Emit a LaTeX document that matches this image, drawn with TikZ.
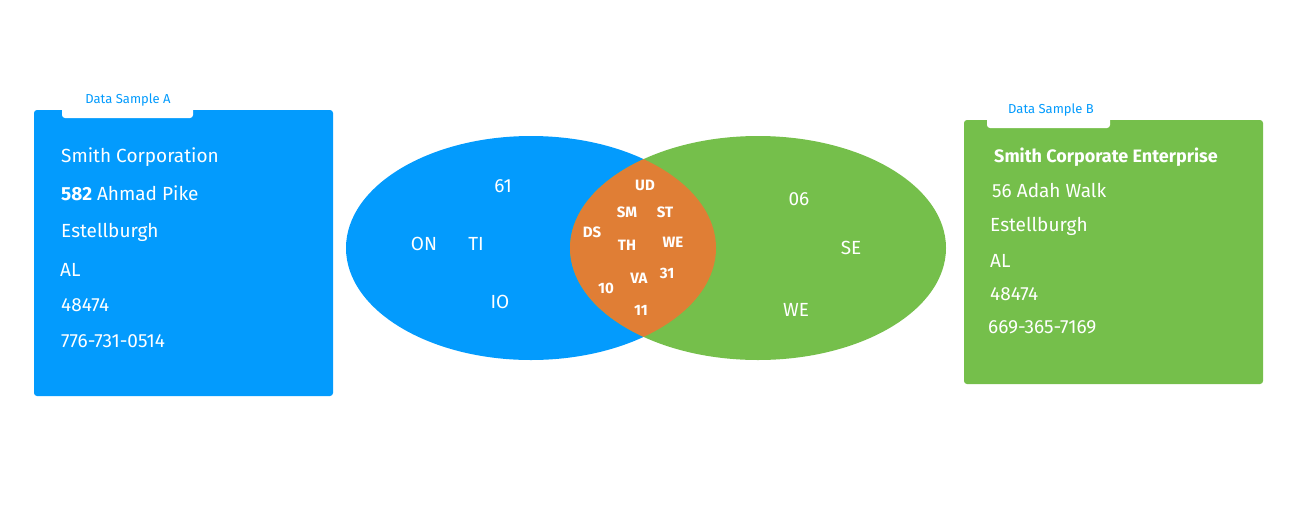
\documentclass[tikz,border=0pt]{standalone}
\usepackage{fontspec}
\setmainfont{Fira Sans}
\definecolor{cblue}{HTML}{039BFD}
\definecolor{cgreen}{HTML}{75BF4B}
\definecolor{corange}{HTML}{E07E35}
\begin{document}
\begin{tikzpicture}[x=1pt,y=-1pt,
  card/.style={rounded corners=3pt,draw=none},
  tab/.style={fill=white,rounded corners=3pt},
  tabtxt/.style={text=cblue,font=\fontsize{13}{15}\selectfont},
  line/.style={text=white,anchor=west,inner sep=0pt,font=\fontsize{19}{21}\selectfont},
  vtxt/.style={text=white,font=\fontsize{19}{21}\selectfont},
  itxt/.style={text=white,font=\bfseries\fontsize{15}{17}\selectfont}]
\useasboundingbox (0,0) rectangle (1290,504);
% cards
\fill[cblue,card] (34,110) rectangle (333,396);
\fill[tab] (62,84) rectangle (193,118);
\node[tabtxt] (ta) at (128,100) {Data Sample A};
\fill[cgreen,card] (964,120) rectangle (1263,384);
\fill[tab] (987,94) rectangle (1110,128);
\node[tabtxt] (tb) at (1051,110) {Data Sample B};
% venn
\fill[cblue] (531,248) ellipse [x radius=185,y radius=112];
\fill[cgreen] (758,248) ellipse [x radius=188,y radius=112];
\begin{scope}
\clip (531,248) ellipse [x radius=185,y radius=112];
\fill[corange] (758,248) ellipse [x radius=188,y radius=112];
\end{scope}
% left text
\node[line] (a1) at (61,157) {Smith Corporation};
\node[line] (a2) at (61,193) {\textbf{582} Ahmad Pike};
\node[line] (a3) at (61,232) {Estellburgh};
\node[line] (a4) at (60,270) {AL};
\node[line] (a5) at (61,305) {48474};
\node[line] (a6) at (61,341) {776-731-0514};
% right text
\node[line,font=\bfseries\fontsize{18}{20}\selectfont] (b1) at (994,157) {Smith Corporate Enterprise};
\node[line] (b2) at (992,190) {56 Adah Walk};
\node[line] (b3) at (990,226) {Estellburgh};
\node[line] (b4) at (990,261) {AL};
\node[line] (b5) at (990,294) {48474};
\node[line] (b6) at (988,327) {669-365-7169};
% venn labels
\node[vtxt] (l1) at (503,186) {61};
\node[vtxt] (l2) at (424,244) {ON};
\node[vtxt] (l3) at (476,244) {TI};
\node[vtxt] (l4) at (500,302) {IO};
\node[vtxt] (r1) at (799,199) {06};
\node[vtxt] (r2) at (851,248) {SE};
\node[vtxt] (r3) at (796,310) {WE};
\node[itxt] (c1) at (645,185) {UD};
\node[itxt] (c2) at (627,212) {SM};
\node[itxt] (c3) at (665,212) {ST};
\node[itxt] (c4) at (592,232) {DS};
\node[itxt] (c5) at (627,245) {TH};
\node[itxt] (c6) at (673,242) {WE};
\node[itxt] (c7) at (639,278) {VA};
\node[itxt] (c8) at (667,273) {31};
\node[itxt] (c9) at (606,288) {10};
\node[itxt] (c10) at (641,310) {11};
\end{tikzpicture}
\end{document}
